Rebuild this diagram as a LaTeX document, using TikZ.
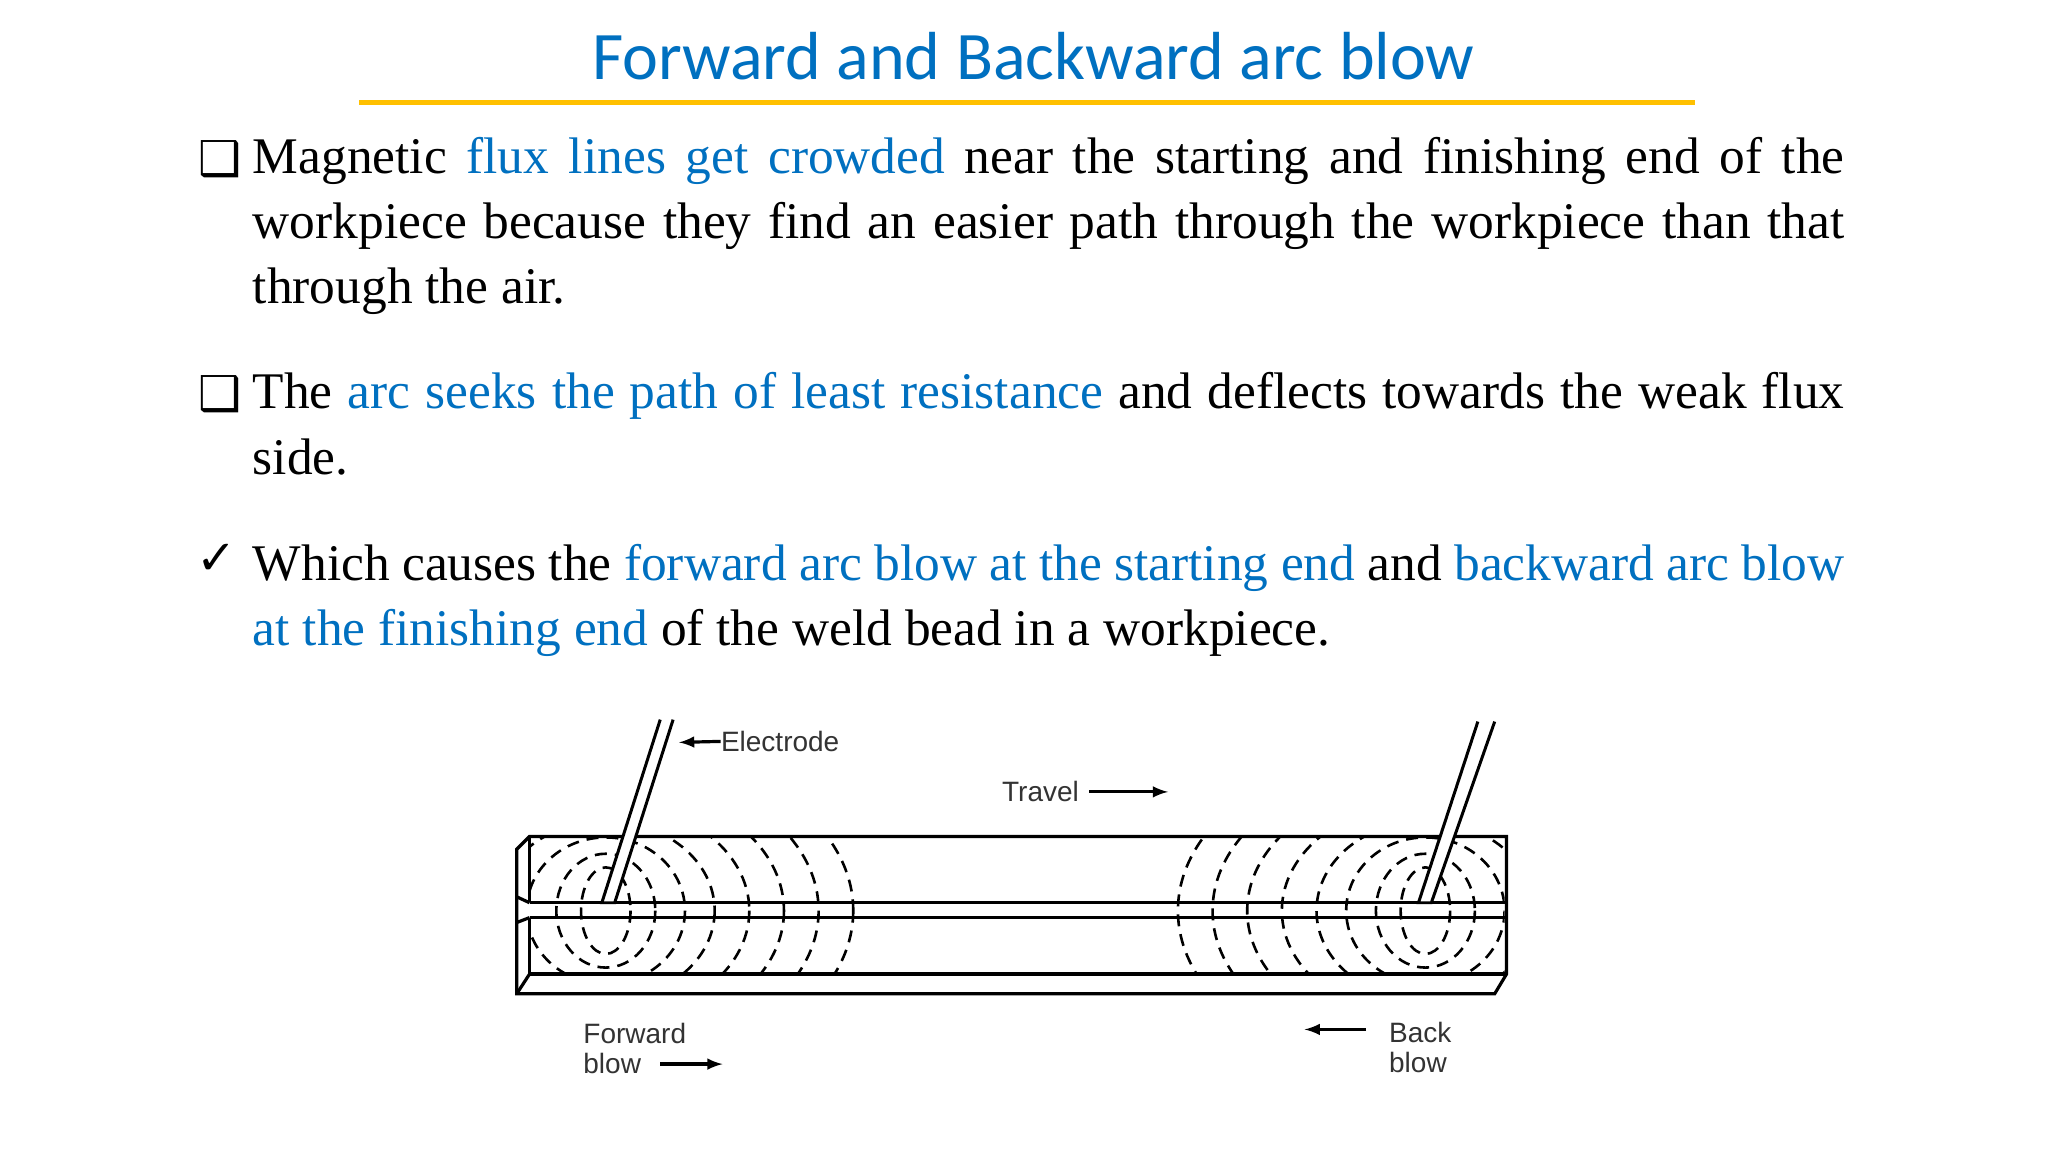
\documentclass[tikz,border=0pt]{standalone}
\usepackage{fontspec}
\setmainfont{Liberation Serif}
\newfontfamily\titlefont{Carlito}
\newfontfamily\symfont{DejaVu Sans}
\newfontfamily\labfont{Liberation Sans}
\definecolor{tblue}{HTML}{0070C0}
\definecolor{tyellow}{HTML}{FFC000}
\definecolor{labgray}{HTML}{333333}
\newcommand\nohyph{\hyphenpenalty=10000\relax\exhyphenpenalty=10000\relax}
\begin{document}
\begin{tikzpicture}[x=0.495pt,y=-0.495pt,
  bodytext/.style={anchor=north west,inner sep=0,text width=796pt,align=justify,font=\fontsize{25.7}{32.7}\selectfont},
  bulletsym/.style={anchor=base west,inner sep=0,font=\symfont\fontsize{24}{24}\selectfont},
  lab/.style={inner sep=0,font=\labfont\fontsize{14}{15}\selectfont,text=labgray},
  arr/.style={-latex,line width=1.6pt,black},
  bar/.style={line width=1.6pt,black},
  flux/.style={dash pattern=on 6pt off 4pt,line width=1.3pt}]
\useasboundingbox (0,0) rectangle (2069,1164);
\fill[white] (0,0) rectangle (2069,1164);
% title
\node[inner sep=0,anchor=base,font=\titlefont\fontsize{34}{38}\selectfont,text=tblue] (title) at (1044,80) {Forward and Backward arc blow};
\draw[tyellow,line width=2.5pt] (363,104) -- (1712,104);
% bullets
\node[bulletsym] (b1) at (200,177) {❑};
\node[bodytext] (t1) at (255,138) {\nohyph Magnetic \textcolor{tblue}{flux lines get crowded} near the starting and finishing end of the\linebreak workpiece because they find an easier path through the workpiece than that\linebreak through the air.};
\node[bulletsym] (b2) at (200,415) {❑};
\node[bodytext] (t2) at (255,376) {\nohyph The \textcolor{tblue}{arc seeks the path of least resistance} and deflects towards the weak flux side.};
\node[bulletsym] (b3) at (198,580) {✓};
\node[bodytext] (t3) at (255,549) {\nohyph Which causes the \textcolor{tblue}{forward arc blow at the starting end} and \textcolor{tblue}{backward arc blow at the finishing end} of the weld bead in a workpiece.};
% flux lines (clipped to the bar)
\begin{scope}
\clip (535,847) rectangle (1520,984);
\foreach \r in {25,50,80,110,145,180,215,250}{
  \draw[flux] (612,920) ellipse ({\r} and {0.55*\r+30});
  \draw[flux] (1440,920) ellipse ({\r} and {0.55*\r+30});
}
\end{scope}
% bar
\draw[bar,fill=none] (535,845) -- (1522,845) -- (1522,984) -- (1510,1004) -- (522,1004) -- (522,858) -- cycle;
\draw[bar] (535,845) -- (535,910);
\draw[bar] (535,912) -- (1522,912);
\draw[bar] (535,927) -- (1522,927);
\draw[bar] (522,906) -- (535,912) (522,932) -- (535,927);
\draw[bar] (535,927) -- (535,984);
\draw[bar] (535,984) -- (1522,984);
\draw[bar] (522,1004) -- (535,984);
% electrodes
\draw[line width=1.5pt,fill=white] (667,727) -- (608,912) -- (621,912) -- (680,727);
\draw[line width=1.5pt,fill=white] (1493,729) -- (1433,912) -- (1446,912) -- (1510,729);
% labels
\node[lab,anchor=west] (elec) at (728,749) {Electrode};
\coordinate (elecTip) at (686,750);
\draw[arr] (elec.west) -- (elecTip);
\node[lab,anchor=west] (trav) at (1012,800) {Travel};
\coordinate (travTip) at (1180,800);
\draw[arr] (trav.east) ++(10,0) -- (travTip);
\node[lab,anchor=west,align=left] (fwd) at (589,1059) {Forward\\blow};
\coordinate (fwdA) at (667,1075);
\coordinate (fwdB) at (730,1075);
\draw[arr] (fwdA) -- (fwdB);
\node[lab,anchor=west,align=left] (back) at (1403,1058) {Back\\blow};
\coordinate (backA) at (1380,1040);
\coordinate (backB) at (1318,1040);
\draw[arr] (backA) -- (backB);
\end{tikzpicture}
\end{document}
